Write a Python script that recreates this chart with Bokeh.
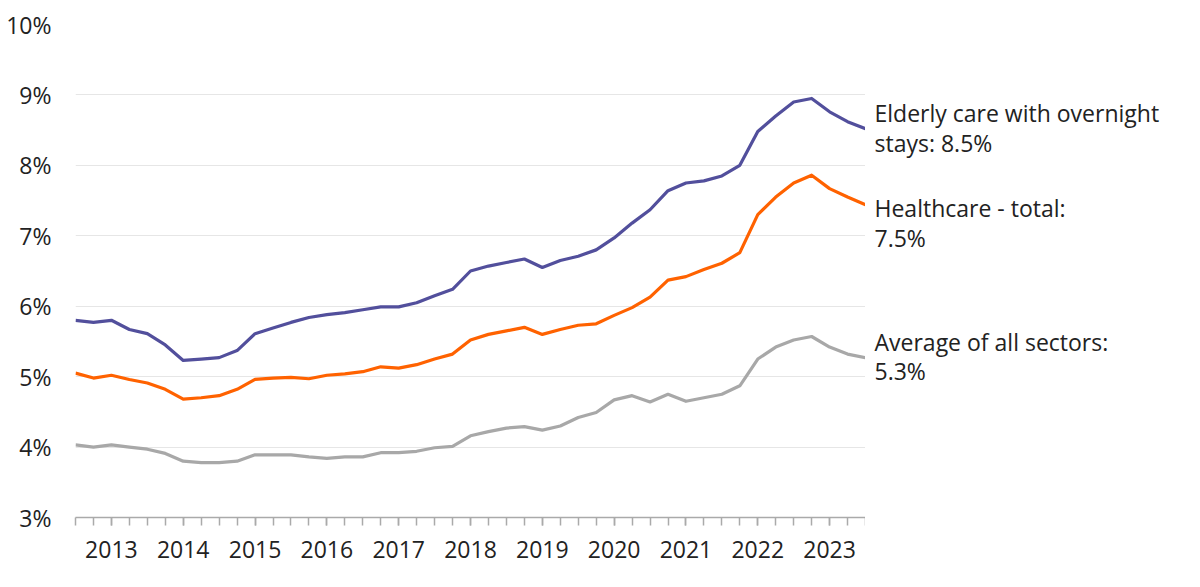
from bokeh.plotting import figure
from bokeh.models import Range1d, FixedTicker, ColumnDataSource
from bokeh.layouts import row
from bokeh.core.properties import value
from bokeh.embed import file_html
from bokeh.resources import INLINE

# quarterly series, % of workforce (index 0 = first quarter shown)
elderly = [5.80, 5.77, 5.80, 5.67, 5.61, 5.45, 5.23, 5.25, 5.27, 5.37,
           5.61, 5.69, 5.77, 5.84, 5.88, 5.91, 5.95, 5.99, 5.99, 6.05,
           6.15, 6.24, 6.50, 6.57, 6.62, 6.67, 6.55, 6.65, 6.71, 6.80,
           6.97, 7.18, 7.37, 7.64, 7.75, 7.78, 7.85, 8.00, 8.48, 8.70,
           8.90, 8.95, 8.76, 8.62, 8.52]
healthcare = [5.05, 4.98, 5.02, 4.96, 4.91, 4.82, 4.68, 4.70, 4.73, 4.82,
              4.96, 4.98, 4.99, 4.97, 5.02, 5.04, 5.07, 5.14, 5.12, 5.17,
              5.25, 5.32, 5.52, 5.60, 5.65, 5.70, 5.60, 5.67, 5.73, 5.75,
              5.87, 5.98, 6.13, 6.37, 6.42, 6.52, 6.61, 6.76, 7.30, 7.55,
              7.75, 7.86, 7.67, 7.55, 7.44]
all_sectors = [4.03, 4.00, 4.03, 4.00, 3.97, 3.91, 3.80, 3.78, 3.78, 3.80,
               3.89, 3.89, 3.89, 3.86, 3.84, 3.86, 3.86, 3.92, 3.92, 3.94,
               3.99, 4.01, 4.16, 4.22, 4.27, 4.29, 4.24, 4.30, 4.42, 4.49,
               4.67, 4.73, 4.64, 4.75, 4.65, 4.70, 4.75, 4.87, 5.25, 5.42,
               5.52, 5.57, 5.42, 5.32, 5.27]
quarters = list(range(len(elderly)))
years = [str(y) for y in range(2013, 2024)]
year_pos = [2 + 4 * k for k in range(len(years))]
y_ticks = [3, 4, 5, 6, 7, 8, 9, 10]

# series, colour, label lines, and pixel shift of each line from the last point
series = [
    (elderly, "#524f9c", ["Elderly care with overnight", "stays: 8.5%"], [-16, 14]),
    (healthcare, "#ff6200", ["Healthcare - total:", "7.5%"], [3, 33]),
    (all_sectors, "#a8a8a8", ["Average of all sectors:", "5.3%"], [-16, 13]),
]

FONT = "Open Sans"
TXT = "#222222"
H = 580

p = figure(width=865, height=H, output_backend="svg", toolbar_location=None,
           x_range=Range1d(0, len(quarters) - 1), y_range=Range1d(3, 10),
           min_border_left=75, min_border_right=0, min_border_top=24,
           min_border_bottom=63)
p.outline_line_color = None

for vals, col, lines, offs in series:
    p.line(quarters, vals, line_color=col, line_width=3.2, line_join="round")

# x axis: a tick per quarter, a year label every fourth
p.xaxis.ticker = FixedTicker(ticks=year_pos, minor_ticks=quarters)
p.xaxis.major_label_overrides = {pos: lab for pos, lab in zip(year_pos, years)}
p.xaxis.axis_line_color = "#aaaaaa"
p.xaxis.axis_line_width = 1.5
p.xaxis.major_tick_line_color = "#aaaaaa"
p.xaxis.minor_tick_line_color = "#aaaaaa"
p.xaxis.major_tick_line_width = 1.5
p.xaxis.minor_tick_line_width = 1.5
p.xaxis.major_tick_in = 0
p.xaxis.minor_tick_in = 0
p.xaxis.major_tick_out = 8
p.xaxis.minor_tick_out = 8
p.xaxis.major_label_standoff = 15
p.xaxis.major_label_text_font = FONT
p.xaxis.major_label_text_font_size = "23px"
p.xaxis.major_label_text_color = TXT

p.yaxis.ticker = FixedTicker(ticks=y_ticks)
p.yaxis.major_label_overrides = {t: f"{t}%" for t in y_ticks}
p.yaxis.axis_line_color = None
p.yaxis.major_tick_out = 0
p.yaxis.major_tick_in = 0
p.yaxis.minor_tick_out = 0
p.yaxis.minor_tick_in = 0
p.yaxis.major_label_standoff = 24
p.yaxis.major_label_text_font = FONT
p.yaxis.major_label_text_font_size = "23px"
p.yaxis.major_label_text_color = TXT

p.xgrid.grid_line_color = None
p.ygrid.grid_line_color = "#e6e6e6"
p.ygrid.grid_line_width = 1

# right-hand panel sharing the y scale, for the end-of-line labels
lab_y, lab_txt, lab_dy = [], [], []
for vals, col, lines, offs in series:
    for txt, off in zip(lines, offs):
        lab_y.append(vals[-1])
        lab_txt.append(txt)
        lab_dy.append(off)
src = ColumnDataSource(dict(x=[0] * len(lab_y), y=lab_y, text=lab_txt, dy=lab_dy))

p2 = figure(width=325, height=H, output_backend="svg", toolbar_location=None,
            x_range=Range1d(0, 1), y_range=p.y_range,
            x_axis_type=None, y_axis_type=None,
            min_border_left=0, min_border_right=0, min_border_top=24,
            min_border_bottom=63)
p2.outline_line_color = None
p2.xgrid.grid_line_color = None
p2.ygrid.grid_line_color = None
p2.text(x="x", y="y", text="text", source=src, x_offset=9, y_offset="dy",
        text_font=value(FONT), text_font_size="23px", text_color=TXT,
        text_baseline="alphabetic", text_align="left")

layout = row(p, p2)
open("out.html", "w").write(file_html(layout, INLINE))
